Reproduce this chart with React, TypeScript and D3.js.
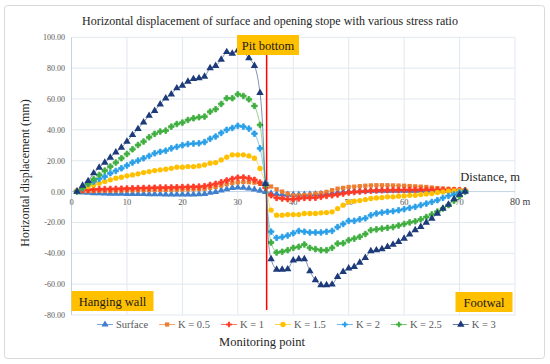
import React, { useEffect, useRef } from 'react';
import * as d3 from 'd3';

// monitoring points along the section (m)
const points = d3.range(1, 72);

const surface = [
  0, -0.5, -0.8, -1, -1.1, -1.2, -1.3, -1.4, -1.4, -1.5,
  -1.5, -1.6, -1.6, -1.7, -1.7, -1.7, -1.8, -1.8, -1.8, -1.8,
  -1.8, -1.8, -1.7, -1.5, -0.8, -0.2, 0.8, 1.6, 2.4, 2.7,
  2.5, 2, 1.4, 0.6, -0.2,
  -1.2, -1.6, -1.8, -2, -2, -2, -1.9, -1.8, -1.7, -1.5,
  -1.3, -1, -0.6, -0.3, 0, 0.2, 0.3, 0.4, 0.5, 0.5,
  0.6, 0.6, 0.6, 0.6, 0.6, 0.6, 0.6, 0.6, 0.5, 0.5,
  0.5, 0.4, 0.4, 0.3, 0.3, 0.3
];
const k05 = [
  0, 0.2, 0.3, 0.4, 0.5, 0.5, 0.6, 0.6, 0.7, 0.8,
  0.8, 0.9, 0.9, 1, 1, 1.1, 1.1, 1.2, 1.2, 1.3,
  1.4, 1.5, 1.6, 1.8, 2.5, 3, 3.9, 4.8, 5.5, 6,
  6.2, 6.1, 5.8, 5, 4.2,
  3.3, 1.5, 0, -1.3, -2.4, -2.4, -2.2, -2, -1.3, -0.9,
  -0.2, 0.9, 1.9, 2.4, 3, 3.2, 3.5, 3.8, 4, 4.1,
  4.1, 4.1, 4, 3.9, 3.8, 3.6, 3.4, 3.2, 3, 2.6,
  2.3, 2, 1.8, 1.5, 1.2, 1
];
const k1 = [
  0.5, 1, 1.2, 1.4, 1.5, 1.6, 1.7, 1.8, 1.9, 2,
  2.1, 2.2, 2.3, 2.4, 2.5, 2.6, 2.6, 2.7, 2.8, 2.9,
  3, 3.1, 3.2, 3.5, 4.3, 5, 6, 7.2, 8.2, 9,
  9.1, 8.6, 7.6, 5.8, 2.5,
  -2.4, -4.1, -4.5, -4.9, -4.9, -4.5, -4.1, -4.1, -4, -3.4,
  -2.8, -2.4, -1.9, -1.3, -0.6, -0.3, 0, 0.3, 0.5, 0.7,
  0.8, 0.9, 1, 1, 1, 1.1, 1.1, 1.1, 1.1, 1.1,
  1.1, 1, 1, 1, 0.9, 0.8
];
const k15 = [
  0.5, 2.2, 3.3, 4.3, 5.4, 6.5, 7.6, 8.7, 9.3, 10.2,
  10.8, 11.5, 12.3, 13, 13.6, 14.1, 14.5, 15.1, 15.8, 15.8,
  16.2, 16.2, 16.6, 17.3, 18.4, 18.8, 20.5, 22.3, 23.8, 23.8,
  23.8, 23.1, 21.6, 15, 5,
  -12, -15.3, -15.3, -14.9, -14.9, -14.9, -14.2, -14.2, -14.2, -13.8,
  -13.6, -13.1, -11, -8.8, -6.7, -6.2, -5.8, -5.2, -4.5, -4.1,
  -3.9, -3.4, -3.4, -3, -2.8, -2.4, -2.4, -1.9, -1.5, -1.3,
  -0.6, -0.2, 0.2, 0.4, 0.4, 0.6
];
const k2 = [
  0, 2.2, 5, 6.5, 8.2, 9.7, 11.9, 13.4, 15.1, 16.9,
  18.8, 20.1, 21.6, 23.1, 24.8, 25.8, 26.5, 28, 29, 30,
  30.8, 31.1, 31.3, 32.1, 34.2, 35.7, 38, 40, 41.2, 42.6,
  42.1, 40.8, 37.5, 28, 5.4,
  -26, -30, -29.5, -28.5, -27, -25.5, -26, -26.5, -26.5, -26.5,
  -26, -25.5, -23, -21, -19, -19, -18, -17.3, -15.3, -14.2,
  -13.6, -13.1, -12.7, -12.1, -11.4, -10.6, -9.9, -8.8, -7.8, -6.7,
  -5.6, -4.1, -2.8, -1.9, -0.6, 0
];
const k25 = [
  0, 2.5, 5.2, 8, 10.8, 13.6, 16.2, 18.8, 21.6, 24.4,
  27.4, 30.2, 32.4, 35.2, 37.4, 38.9, 39.5, 42.1, 43.8, 44.7,
  46.4, 47.5, 48.2, 48.6, 51.8, 53.4, 56.8, 60.5, 60.5, 63.1,
  62, 59.8, 55.5, 43.2, 4.3,
  -33, -39.5, -39, -38, -36.5, -35.8, -34.3, -36.5, -37.3, -38,
  -38, -36.5, -33.7, -33.5, -31.5, -30.5, -29.3, -27.5, -25, -24.5,
  -24, -23.5, -23, -22, -21, -20, -19.3, -18, -16.5, -14.8,
  -13, -11, -8.8, -6, -3, 0
];
const k3 = [
  0, 3.9, 6.9, 11.9, 15.6, 18.8, 22, 25.5, 28.5, 32.4,
  36.7, 40.6, 44.9, 49.2, 52.3, 56.6, 60.5, 63.1, 67, 68.7,
  71.3, 73, 73.5, 74.5, 80, 81.5, 85.5, 90.5, 89.5, 91.5,
  90, 86.5, 81.5, 64, 5,
  -43.8, -50.5, -50.5, -50.3, -44.5, -43.8, -43.8, -51.6, -57.4, -60.6,
  -60.6, -60.2, -55.2, -52, -49.8, -48.8, -46, -43, -38.6, -38,
  -37.3, -35.8, -34.3, -32.6, -30.4, -27.8, -25, -22.9, -20.1, -17.5,
  -14.2, -11, -8.4, -4.9, -1.9, 0
];

const seriesNames = ['Surface', 'K = 0.5', 'K = 1', 'K = 1.5', 'K = 2', 'K = 2.5', 'K = 3'];
const seriesValues = [surface, k05, k1, k15, k2, k25, k3];

const yTicks = [100, 80, 60, 40, 20, 0, -20, -40, -60, -80];
const xTicks = [0, 10, 20, 30, 40, 50, 60, 70, 80];
const pitX = 35.2;

const colors = ['#3F7FCC', '#ED7D31', '#FF3A24', '#FFC000', '#2A9FE8', '#3FAE3F', '#1D3A7A'];
const symbols = [d3.symbolTriangle, d3.symbolSquare, d3.symbolCross, d3.symbolCircle, d3.symbolCross, d3.symbolCross, d3.symbolTriangle];
const symSize = [22, 18, 17, 22, 17, 17, 24];

const serif = '"Liberation Serif", "Times New Roman", Times, serif';

const App = () => {
  const svgRef = useRef<SVGSVGElement>(null);

  useEffect(() => {
    const width = 550;
    const height = 364;
    const root = d3.select(svgRef.current);
    root.selectAll('*').remove();
    root.attr('width', width).attr('height', height);
    const svg = root.append('g').style('font-family', serif);

    svg.append('rect').attr('width', width).attr('height', height).attr('fill', 'white');
    svg.append('rect')
      .attr('x', 4.5).attr('y', 5.5).attr('width', 540).attr('height', 353)
      .attr('rx', 3).attr('fill', 'white').attr('stroke', '#D9D9D9');

    const x = d3.scaleLinear().domain([0, 80]).range([71.5, 515]);
    const y = d3.scaleLinear().domain([-80, 100]).range([315, 37.3]);

    // grid
    const grid = svg.append('g').attr('stroke', '#E1E8EF').attr('stroke-width', 1);
    grid.selectAll('line.h').data(yTicks).join('line')
      .attr('x1', x(0)).attr('x2', x(80))
      .attr('y1', d => y(d)).attr('y2', d => y(d));
    grid.selectAll('line.v').data(xTicks.slice(1)).join('line')
      .attr('x1', d => x(d)).attr('x2', d => x(d))
      .attr('y1', y(100)).attr('y2', y(-80));
    svg.append('line').attr('x1', x(0)).attr('x2', x(0)).attr('y1', y(100)).attr('y2', y(-80))
      .attr('stroke', '#C5D3E0');
    svg.append('line').attr('x1', x(0)).attr('x2', x(80)).attr('y1', y(0)).attr('y2', y(0))
      .attr('stroke', '#C5D5E5');

    // y tick labels
    svg.append('g').attr('text-anchor', 'end').attr('font-size', 8).attr('fill', '#595959')
      .selectAll('text').data(yTicks).join('text')
      .attr('x', 65).attr('y', d => y(d) + 3)
      .text(d => d.toFixed(2));

    // x tick labels on the zero line
    svg.append('g').attr('text-anchor', 'middle').attr('font-size', 8.5).attr('fill', '#595959')
      .selectAll('text').data(xTicks.slice(0, -1)).join('text')
      .attr('x', d => x(d)).attr('y', y(0) + 13)
      .text(d => d);
    svg.append('text').attr('x', x(80) - 5).attr('y', y(0) + 13).attr('font-size', 10).attr('fill', '#404040')
      .text('80 m');
    svg.append('text').attr('x', 520).attr('y', y(0) - 11).attr('text-anchor', 'end')
      .attr('font-size', 12.5).attr('fill', '#262626').text('Distance, m');

    // pit line
    svg.append('line').attr('x1', x(pitX)).attr('x2', x(pitX)).attr('y1', y(100)).attr('y2', 310)
      .attr('stroke', '#FF0000').attr('stroke-width', 1.5);

    // series
    const line = d3.line<number>()
      .x((_, i) => x(points[i]))
      .y(d => y(d))
      .curve(d3.curveCatmullRom.alpha(0.5));

    seriesValues.forEach((vals, s) => {
      const g = svg.append('g');
      g.append('path').attr('d', line(vals)).attr('fill', 'none')
        .attr('stroke', colors[s]).attr('stroke-opacity', 0.55).attr('stroke-width', 1);
      g.selectAll('path.m').data(vals).join('path')
        .attr('class', 'm')
        .attr('transform', (d, i) => `translate(${x(points[i])},${y(d)})`)
        .attr('d', d3.symbol(symbols[s], symSize[s])())
        .attr('fill', colors[s])
        .attr('stroke', symbols[s] === d3.symbolCross ? colors[s] : 'none')
        .attr('stroke-width', 0.8)
        .attr('stroke-linejoin', 'round');
    });

    // annotation boxes
    const box = (cx: number, top: number, w: number, label: string) => {
      svg.append('rect').attr('x', cx - w / 2).attr('y', top).attr('width', w).attr('height', 20)
        .attr('fill', '#FFC000');
      svg.append('text').attr('x', cx).attr('y', top + 14.5).attr('text-anchor', 'middle')
        .attr('font-size', 12.5).attr('fill', '#1A1A1A').text(label);
    };
    box(268, 35, 62, 'Pit bottom');
    box(x(0) + 41, 291, 82, 'Hanging wall');
    box(484, 292, 57, 'Footwal');

    // titles
    svg.append('text').attr('x', 270).attr('y', 25).attr('text-anchor', 'middle')
      .attr('font-size', 12).attr('fill', '#262626')
      .text('Horizontal displacement of surface and opening stope with various stress ratio');
    svg.append('text').attr('transform', 'translate(29,173) rotate(-90)').attr('text-anchor', 'middle')
      .attr('font-size', 12).attr('fill', '#262626').text('Horizontal displacement (mm)');
    svg.append('text').attr('x', 262).attr('y', 346).attr('text-anchor', 'middle')
      .attr('font-size', 12.5).attr('fill', '#262626').text('Monitoring point');

    // legend
    let lx = 97;
    const ly = 324.5;
    seriesNames.forEach((name, s) => {
      const g = svg.append('g');
      g.append('line').attr('x1', lx).attr('x2', lx + 16).attr('y1', ly).attr('y2', ly)
        .attr('stroke', colors[s]).attr('stroke-opacity', 0.7);
      g.append('path').attr('transform', `translate(${lx + 8},${ly})`)
        .attr('d', d3.symbol(symbols[s], symSize[s])()).attr('fill', colors[s]);
      const t = g.append('text').attr('x', lx + 19).attr('y', ly + 3.5)
        .attr('font-size', 10.5).attr('fill', '#595959').text(name);
      const w = (t.node() as SVGTextElement).getComputedTextLength();
      lx += 19 + w + 11;
    });
  }, []);

  return <svg ref={svgRef} style={{ position: 'absolute', left: 0, top: 0 }} />;
};

export default App;
